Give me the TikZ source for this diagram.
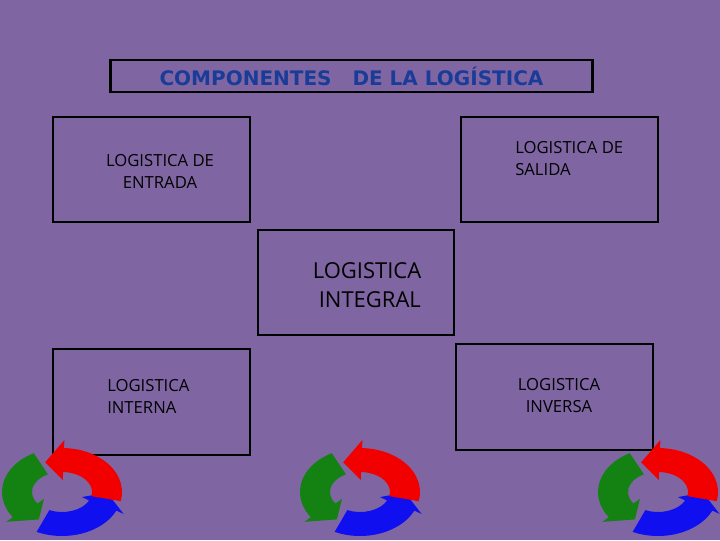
\documentclass[tikz,border=0pt]{standalone}
\usepackage{fontspec}
\setmainfont{Open Sans}
\newfontfamily\titlefont{DejaVu Sans}
\definecolor{bg}{HTML}{7F66A3}
\definecolor{ttl}{HTML}{1A3C98}
\definecolor{gg}{HTML}{138213}
\definecolor{rr}{HTML}{F20000}
\definecolor{bb}{HTML}{0F0FF0}
\tikzset{
 box/.style={draw=black,line width=2.2pt},
 lbl/.style={font=\fontsize{12.5}{16.5}\selectfont,align=left,inner sep=0pt},
}
\newcommand{\seg}[3]{% start, end, color
 \fill[#3] (#1:60 and 44) arc[start angle=#1,end angle=#2,x radius=60,y radius=44]
  -- (#2:68 and 52) -- ({#2+24}:45 and 32) -- (#2:22 and 12) -- (#2:30 and 20)
  arc[start angle=#2,end angle=#1,x radius=30,y radius=20] -- cycle;}
\newcommand{\cyc}[2]{\begin{scope}[shift={(#1,#2)},yscale=-1]
 \seg{245}{335}{bb}\seg{118}{215}{gg}\seg{-12}{88}{rr}\end{scope}}
\begin{document}
\begin{tikzpicture}[x=0.75pt,y=-0.75pt]
\fill[bg] (0,0) rectangle (720,540);
\clip (0,0) rectangle (720,540);
\node[box,minimum width=362pt,minimum height=24pt,inner sep=0pt] (t) at (351.5,76)
 {\titlefont\bfseries\fontsize{15}{17}\selectfont\color{ttl}COMPONENTES\ \ \ DE LA LOGÍSTICA};
\draw[box] (53,117) rectangle (250,222);
\node[lbl,align=center] (e) at (160,171) {LOGISTICA DE\\ENTRADA};
\draw[box] (461,117) rectangle (658,222);
\node[lbl,anchor=west] (s) at (515,159) {LOGISTICA DE\\SALIDA};
\draw[box] (258,230) rectangle (454,335);
\node[inner sep=0pt,align=center,font=\fontsize{16.5}{22}\selectfont] (i) at (367,285) {LOGISTICA\\\ INTEGRAL};
\draw[box] (53,349) rectangle (250,455);
\node[lbl,anchor=west] (n) at (107,396) {LOGISTICA\\INTERNA};
\draw[box] (456,344) rectangle (653,450);
\node[lbl,align=center] (v) at (559,396) {LOGISTICA\\INVERSA};
\cyc{62}{492}
\cyc{360}{492}
\cyc{658}{492}
\end{tikzpicture}
\end{document}
